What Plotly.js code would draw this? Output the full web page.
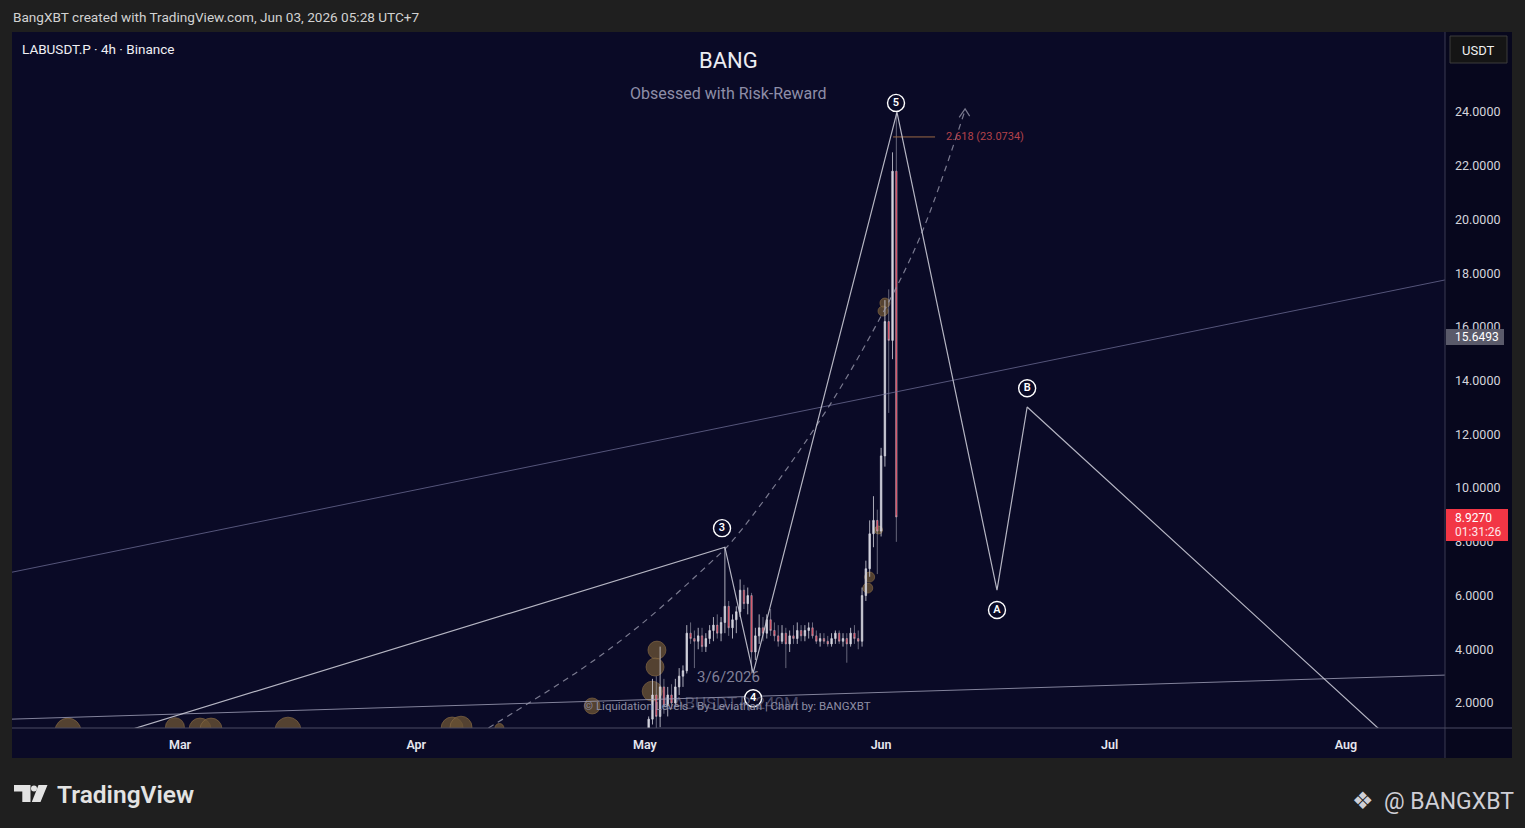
<!DOCTYPE html>
<html><head><meta charset="utf-8">
<script src="https://cdn.plot.ly/plotly-3.0.1.min.js"></script>
<style>html,body{margin:0;padding:0;background:#1f1f1f;overflow:hidden}#chart{width:1525px;height:828px}</style>
</head><body><div id="chart"></div>
<script>
// ---------- DATA ----------
const candleTimes = ['2026-05-01 00:00','2026-05-01 12:00','2026-05-02 00:00','2026-05-02 12:00','2026-05-03 00:00','2026-05-03 12:00','2026-05-04 00:00','2026-05-04 12:00','2026-05-05 00:00','2026-05-05 12:00','2026-05-06 00:00','2026-05-06 12:00','2026-05-07 00:00','2026-05-07 12:00','2026-05-08 00:00','2026-05-08 12:00','2026-05-09 00:00','2026-05-09 12:00','2026-05-10 00:00','2026-05-10 12:00','2026-05-11 00:00','2026-05-11 12:00','2026-05-12 00:00','2026-05-12 12:00','2026-05-13 00:00','2026-05-13 12:00','2026-05-14 00:00','2026-05-14 12:00','2026-05-15 00:00','2026-05-15 12:00','2026-05-16 00:00','2026-05-16 12:00','2026-05-17 00:00','2026-05-17 12:00','2026-05-18 00:00','2026-05-18 12:00','2026-05-19 00:00','2026-05-19 12:00','2026-05-20 00:00','2026-05-20 12:00','2026-05-21 00:00','2026-05-21 12:00','2026-05-22 00:00','2026-05-22 12:00','2026-05-23 00:00','2026-05-23 12:00','2026-05-24 00:00','2026-05-24 12:00','2026-05-25 00:00','2026-05-25 12:00','2026-05-26 00:00','2026-05-26 12:00','2026-05-27 00:00','2026-05-27 12:00','2026-05-28 00:00','2026-05-28 12:00','2026-05-29 00:00','2026-05-29 12:00','2026-05-30 00:00','2026-05-30 12:00','2026-05-31 00:00','2026-05-31 12:00','2026-06-01 00:00','2026-06-01 12:00','2026-06-02 00:00','2026-06-02 12:00','2026-06-03 00:00'];
const candleOpen  = [0.70,0.95,1.40,2.30,1.50,2.60,1.90,2.30,2.00,2.60,3.00,3.20,4.60,4.40,4.30,4.50,4.10,4.40,4.70,4.90,4.60,5.00,5.60,4.80,5.10,5.40,6.20,5.70,6.00,3.90,4.50,4.80,4.60,5.10,4.70,4.50,4.30,4.60,4.20,4.50,4.40,4.70,4.50,4.70,4.80,4.50,4.30,4.40,4.30,4.20,4.40,4.60,4.30,4.40,4.20,4.60,4.40,4.30,6.00,7.00,8.30,8.80,8.40,11.20,16.20,15.50,21.80];
const candleHigh  = [1.00,1.50,2.90,3.00,4.10,2.90,2.60,2.70,2.90,3.30,3.40,4.90,5.00,4.70,4.80,4.80,4.60,4.90,5.20,5.30,5.20,7.80,5.80,5.30,5.60,6.60,6.40,6.30,6.10,4.80,5.30,5.20,5.30,5.50,5.00,4.90,4.90,4.80,4.70,4.90,5.00,4.90,4.90,5.00,5.00,4.70,4.60,4.60,4.50,4.60,4.70,4.70,4.60,4.60,4.80,4.90,4.70,6.30,7.30,8.80,9.70,9.20,11.50,17.00,17.40,22.50,24.00];
const candleLow   = [0.65,0.90,1.20,1.00,1.10,1.60,1.50,1.80,1.90,2.30,2.60,3.10,4.20,3.30,4.00,3.90,3.90,4.20,4.30,4.40,4.30,4.60,4.50,4.40,4.60,5.20,5.50,5.30,3.10,3.60,4.20,4.30,4.40,4.50,4.30,4.10,4.20,3.30,3.90,4.20,4.20,4.30,4.30,4.40,4.40,4.20,4.10,4.20,4.10,4.10,4.20,4.20,4.10,3.50,4.10,4.20,4.00,4.10,5.80,6.70,7.80,6.80,8.20,10.80,12.80,14.80,8.00];
const candleClose = [0.95,1.40,2.30,1.50,2.60,1.90,2.30,2.00,2.60,3.00,3.20,4.60,4.40,4.30,4.50,4.10,4.40,4.70,4.90,4.60,5.00,5.60,4.80,5.10,5.40,6.20,5.70,6.00,3.90,4.50,4.80,4.60,5.10,4.70,4.50,4.30,4.60,4.20,4.50,4.40,4.70,4.50,4.70,4.80,4.50,4.30,4.40,4.30,4.20,4.40,4.60,4.30,4.40,4.20,4.60,4.40,4.30,6.00,7.00,8.30,8.80,8.40,11.20,16.20,15.50,21.80,8.927];

const waveDates  = ['2026-02-13 06:00','2026-05-11 12:00','2026-05-15 05:00','2026-06-03 02:00','2026-06-16 05:00','2026-06-20 04:00','2026-08-10 17:00'];
const waveValues = [0.20, 7.80, 3.11, 24.00, 6.20, 13.02, -0.36];
const waveLabelDates  = ['2026-05-11 03:00','2026-05-15 05:00','2026-06-02 23:00','2026-06-16 05:00','2026-06-20 04:00'];
const waveLabelValues = [8.51, 2.18, 24.34, 5.46, 13.72];
const waveLabels = ['3','4','5','A','B'];

const trendDates = ['2026-02-06 22:48','2026-08-14 00:00'];
const upperTrendValues = [6.87, 17.75];
const lowerTrendValues = [1.40, 3.04];

const arcDates  = ['2026-04-06 18:00','2026-04-22 12:00','2026-04-30 09:00','2026-05-09 13:00','2026-05-12 14:00','2026-05-23 23:45','2026-05-31 20:40','2026-06-06 02:40','2026-06-12 00:30'];
const arcValues = [0.43, 3.23, 4.90, 7.21, 8.07, 12.53, 16.33, 19.35, 24.07];
const arrowDates  = ['2026-06-11 06:00','2026-06-12 00:30','2026-06-12 15:00'];
const arrowValues = [23.80, 24.12, 23.85];

const fibDates = ['2026-06-02 13:40','2026-06-08 02:00'];
const fibValue = 23.0734;
const fibLabel = '2.618 (23.0734)';
const fibLabelDate = '2026-06-09 06:00';

const bubbleDates  = ['2026-02-14 07:00','2026-02-28 08:00','2026-03-03 15:00','2026-03-05 01:40','2026-03-15 04:00','2026-04-05 17:00','2026-04-06 21:00','2026-04-11 22:00','2026-04-24 02:00','2026-05-02 14:00','2026-05-02 08:00','2026-05-01 23:00','2026-05-30 12:00','2026-05-30 06:00','2026-05-31 16:00','2026-06-01 12:00','2026-06-01 06:00'];
const bubbleValues = [0.955,1.10,1.03,1.03,0.99,1.07,1.10,1.07,1.89,3.97,3.34,2.44,6.69,6.28,8.44,16.89,16.59];
const bubbleSizes  = [26,19,22,22,26,22,22,9,16,18,18,20,10,10,8,10,10];

const xTickDates  = ['2026-03-01','2026-04-01','2026-05-01','2026-06-01','2026-07-01','2026-08-01'];
const xTickLabels = ['Mar','Apr','May','Jun','Jul','Aug'];
const yTickValues = [2,4,6,8,10,12,14,16,18,20,22,24];
const yTickLabels = ['2.0000','4.0000','6.0000','8.0000','10.0000','12.0000','14.0000','16.0000','18.0000','20.0000','22.0000','24.0000'];

const lastPrice = '8.9270';
const countdown = '01:31:26';
const markPrice = '15.6493';

// ---------- LAYOUT HELPERS ----------
const FONT = 'Roboto, "Noto Sans", "DejaVu Sans", sans-serif';
const PL = 12, PR = 1445, PT = 32, PB = 728;
const px = x => (x - PL) / (PR - PL);
const py = y => (PB - y) / (PB - PT);
function poly(pts){ return 'M' + pts.map(p => px(p[0]) + ',' + py(p[1])).join(' L') + ' Z'; }
function rect(x0,y0,x1,y1,fill,layer,line){
  return {type:'rect', xref:'paper', yref:'paper', x0:px(x0), x1:px(x1), y0:py(y1), y1:py(y0),
          fillcolor:fill, line:line||{width:0}, layer:layer||'above'};
}
function hline(x0,x1,y,color){ return {type:'line',xref:'paper',yref:'paper',x0:px(x0),x1:px(x1),y0:py(y),y1:py(y),line:{color:color,width:1},layer:'above'}; }
function vline(x,y0,y1,color){ return {type:'line',xref:'paper',yref:'paper',x0:px(x),x1:px(x),y0:py(y0),y1:py(y1),line:{color:color,width:1},layer:'above'}; }
function txt(text,x,y,size,color,xanchor,extra){
  return Object.assign({text:text, xref:'paper', yref:'paper', x:px(x), y:py(y), xanchor:xanchor||'center', yanchor:'middle',
    showarrow:false, font:{family:FONT, size:size, color:color}}, extra||{});
}

// ---------- TRACES ----------
const traces = [
  {type:'scatter', mode:'lines', x:trendDates, y:upperTrendValues, line:{color:'rgba(110,110,150,0.75)', width:1}, hoverinfo:'skip'},
  {type:'scatter', mode:'lines', x:trendDates, y:lowerTrendValues, line:{color:'rgba(160,160,185,0.8)', width:1}, hoverinfo:'skip'},
  {type:'scatter', mode:'lines', x:arcDates, y:arcValues, line:{color:'rgba(150,150,170,0.8)', width:1.2, dash:'6px,5px', shape:'spline'}, hoverinfo:'skip'},
  {type:'scatter', mode:'lines', x:arrowDates, y:arrowValues, line:{color:'rgba(150,150,170,0.8)', width:1.2}, hoverinfo:'skip'},
  {type:'candlestick', x:candleTimes, open:candleOpen, high:candleHigh, low:candleLow, close:candleClose,
   increasing:{line:{color:'#d4d4de', width:0.8}, fillcolor:'#d4d4de'},
   decreasing:{line:{color:'#c4c4d0', width:0.5}, fillcolor:'#e0364c'},
   whiskerwidth:0, hoverinfo:'skip'},
  {type:'scatter', mode:'lines', x:fibDates, y:[fibValue, fibValue], line:{color:'#9c6a45', width:1}, hoverinfo:'skip'},
  {type:'scatter', mode:'lines', x:waveDates, y:waveValues, line:{color:'rgba(200,200,212,0.9)', width:1.2}, hoverinfo:'skip'},
  {type:'scatter', mode:'markers+text', x:waveLabelDates, y:waveLabelValues, text:waveLabels, textposition:'middle center',
   textfont:{family:FONT, size:11, color:'#ffffff', weight:600},
   marker:{symbol:'circle', size:17, color:'#0a0a26', line:{color:'#ffffff', width:1.4}}, cliponaxis:false, hoverinfo:'skip'}
];

// liquidation bubbles: circles anchored on data coordinates, sized in pixels
const bubbleShapes = bubbleDates.map((d, i) => ({
  type:'circle', xref:'x', yref:'y', xsizemode:'pixel', ysizemode:'pixel',
  xanchor:d, yanchor:bubbleValues[i],
  x0:-bubbleSizes[i]/2, x1:bubbleSizes[i]/2, y0:-bubbleSizes[i]/2, y1:bubbleSizes[i]/2,
  fillcolor:'rgba(105,82,52,0.78)', line:{color:'rgba(140,110,70,0.6)', width:1}, layer:'below'
}));

const shapes = [
  rect(12,32,1512,758,'#0a0a26','below'),
  rect(1445,32,1512,758,'#07071d','below'),
  ...bubbleShapes,
  vline(1445,32,758,'#3a3a52'),
  hline(12,1512,728,'#4a4a62'),
  rect(1446,329,1504,345,'#5a5a6a','above'),
  rect(1446,509,1508,541,'#f23645','above'),
  rect(1450,36,1507,63,'#151515','above',{color:'#3c3c3c',width:1}),
  // TradingView logo
  {type:'path', xref:'paper', yref:'paper', path:poly([[14,785],[30.5,785],[30.5,802],[22.3,802],[22.3,791.5],[14,791.5]]), fillcolor:'#e3e3e3', line:{width:0}, layer:'above'},
  {type:'circle', xref:'paper', yref:'paper', x0:px(31),x1:px(37),y0:py(791.5),y1:py(785.5), fillcolor:'#e3e3e3', line:{width:0}, layer:'above'},
  {type:'path', xref:'paper', yref:'paper', path:poly([[38.5,785],[47.5,785],[40.5,802],[31.8,802]]), fillcolor:'#e3e3e3', line:{width:0}, layer:'above'}
];

const annotations = [
  txt('BangXBT created with TradingView.com, Jun 03, 2026 05:28 UTC+7', 11, 17, 13.6, '#d2d2d2', 'left'),
  txt('LABUSDT.P · 4h · Binance', 20, 49, 13.5, '#f0f0f4', 'left'),
  txt('BANG', 728, 61, 22, '#ececf2'),
  txt('Obsessed with Risk-Reward', 728, 94, 16, '#8e8ea8'),
  txt('USDT', 1478, 50, 13, '#f0f0f0'),
  txt(markPrice, 1453, 337, 12, '#ffffff', 'left'),
  txt(lastPrice, 1453, 518, 12, '#ffffff', 'left'),
  txt(countdown, 1453, 532, 12, '#ffe6ea', 'left'),
  txt('3/6/2026', 728, 677, 15, 'rgba(170,170,192,0.75)'),
  txt('LABUSDT.P, 240M', 731, 703, 17, 'rgba(150,150,178,0.45)'),
  txt('© Liquidation Levels - By Leviathan | Chart by: BANGXBT', 727, 706, 11.5, '#8d8da3'),
  txt('TradingView', 55, 794, 24.5, '#e3e3e3', 'left', {font:{family:FONT, size:24.5, color:'#e3e3e3', weight:600}}),
  txt('❖', 1363, 801, 24, '#cfcfd6'),
  txt('@ BANGXBT', 1516, 801, 23, '#cfcfd6', 'right'),
  {text:fibLabel, x:fibLabelDate, y:fibValue, xref:'x', yref:'y', xanchor:'left', yanchor:'middle', showarrow:false,
   font:{family:FONT, size:11, color:'#b3424a'}}
];

const layout = {
  width:1525, height:828,
  margin:{l:12, r:80, t:32, b:100},
  paper_bgcolor:'#1f1f1f', plot_bgcolor:'rgba(0,0,0,0)',
  showlegend:false, hovermode:false, boxgap:0.45,
  xaxis:{type:'date', range:['2026-02-06 22:48','2026-08-14 00:00'], tickvals:xTickDates, ticktext:xTickLabels,
         showgrid:false, zeroline:false, showline:false, ticks:'', ticklabelstandoff:7,
         tickfont:{family:FONT, size:12.5, color:'#e6e6ee', weight:600}, rangeslider:{visible:false}, fixedrange:true},
  yaxis:{side:'right', range:[1.07, 26.98], tickvals:yTickValues, ticktext:yTickLabels,
         showgrid:false, zeroline:false, showline:false, ticks:'', ticklabelstandoff:9,
         tickfont:{family:FONT, size:12.5, color:'#d4d4dc'}, fixedrange:true},
  shapes:shapes, annotations:annotations
};

Plotly.newPlot('chart', traces, layout, {displayModeBar:false, staticPlot:true});
</script>
</body></html>
